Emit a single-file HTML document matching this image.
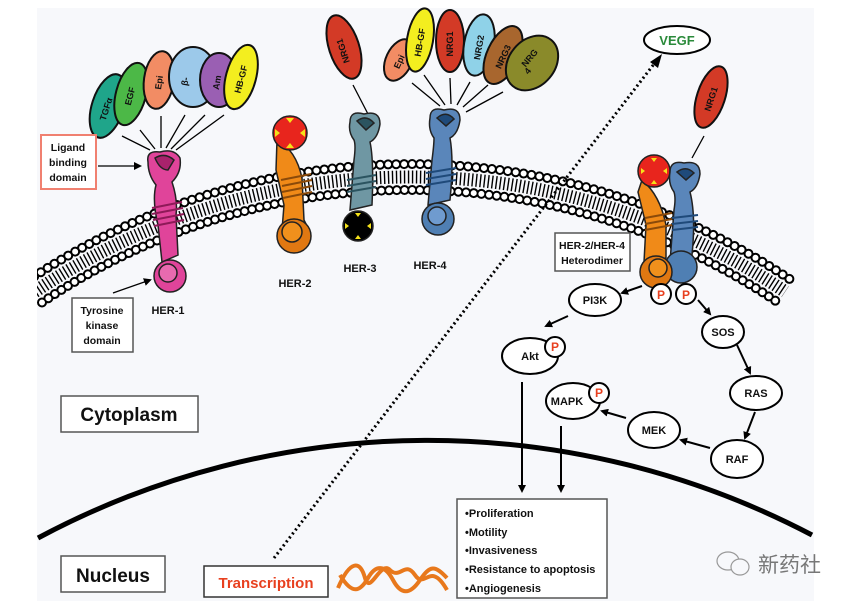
<!DOCTYPE html>
<html><head><meta charset="utf-8"><style>
html,body{margin:0;padding:0;background:#fff;}
svg{display:block;}
text{font-family:"Liberation Sans",Arial,sans-serif;font-weight:bold;}
</style></head><body>
<svg width="848" height="601" viewBox="0 0 848 601" xmlns="http://www.w3.org/2000/svg">
<defs>
<marker id="ah" markerWidth="8" markerHeight="8" refX="6" refY="4" orient="auto" markerUnits="userSpaceOnUse"><path d="M0,0 L8,4 L0,8 Z" fill="#000"/></marker>
</defs>
<rect x="37" y="8" width="777" height="593" fill="#f7f8fb"/>

<!-- cell membrane (arc center 410,848) -->
<g fill="none">
<path d="M34.8,291.7 A671,671 0 0 1 785.2,291.7" stroke="#000" stroke-width="13" stroke-dasharray="1.4 2.6"/>
<path d="M27.5,281 A684,684 0 0 1 792.5,281" stroke="#000" stroke-width="10" stroke-dasharray="0 8" stroke-linecap="round"/>
<path d="M27.5,281 A684,684 0 0 1 792.5,281" stroke="#fff" stroke-width="6" stroke-dasharray="0 8" stroke-linecap="round"/>
<path d="M42,302.5 A658,658 0 0 1 778,302.5" stroke="#000" stroke-width="10" stroke-dasharray="0 7.7" stroke-linecap="round"/>
<path d="M42,302.5 A658,658 0 0 1 778,302.5" stroke="#fff" stroke-width="6" stroke-dasharray="0 7.7" stroke-linecap="round"/>
</g>
<rect x="0" y="0" width="37" height="601" fill="#fff"/>
<rect x="814" y="0" width="34" height="601" fill="#fff"/>

<!-- nuclear membrane -->
<path d="M38,538 A827,827 0 0 1 812,535" fill="none" stroke="#000" stroke-width="5"/>

<!-- dotted line -->
<line x1="274" y1="558" x2="654" y2="64" stroke="#000" stroke-width="3" stroke-dasharray="2 3"/>
<path d="M662,54 L650,62 L658,68 Z" fill="#000"/>
<ellipse cx="677" cy="40" rx="33" ry="14" fill="#fff" stroke="#000" stroke-width="2"/>
<text x="677" y="45" font-size="13" fill="#2a8a3a" text-anchor="middle">VEGF</text>

<!-- ligand lines -->
<g stroke="#000" stroke-width="1.3">
<line x1="122" y1="136" x2="150" y2="150"/><line x1="140" y1="130" x2="155" y2="149"/>
<line x1="161" y1="116" x2="161" y2="148"/><line x1="185" y1="115" x2="166" y2="148"/>
<line x1="205" y1="115" x2="171" y2="149"/><line x1="224" y1="115" x2="176" y2="150"/>
<line x1="353" y1="85" x2="368" y2="114"/>
<line x1="412" y1="83" x2="440" y2="106"/><line x1="424" y1="75" x2="445" y2="105"/>
<line x1="450" y1="78" x2="451" y2="104"/><line x1="470" y1="82" x2="457" y2="105"/>
<line x1="488" y1="85" x2="463" y2="107"/><line x1="503" y1="92" x2="466" y2="112"/>
<line x1="704" y1="136" x2="692" y2="158"/>
</g>

<!-- ligands -->
<g stroke="#111" stroke-width="2">
<ellipse cx="108" cy="106" rx="16" ry="33" fill="#1fa58a" transform="rotate(18 108 106)"/>
<ellipse cx="131" cy="94" rx="15" ry="32" fill="#4cb847" transform="rotate(15 131 94)"/>
<ellipse cx="159" cy="80" rx="15" ry="29" fill="#f28c64" transform="rotate(8 159 80)"/>
<ellipse cx="193" cy="77" rx="24" ry="30" fill="#9cc9ea"/>
<ellipse cx="219" cy="80" rx="19" ry="27" fill="#9a5fb3"/>
<ellipse cx="241" cy="77" rx="15" ry="33" fill="#f3ee1f" transform="rotate(15 241 77)"/>
<ellipse cx="344" cy="47" rx="15" ry="33" fill="#d33a26" transform="rotate(-18 344 47)"/>
<ellipse cx="399" cy="60" rx="13" ry="22" fill="#f28c64" transform="rotate(25 399 60)"/>
<ellipse cx="420" cy="40" rx="13" ry="32" fill="#f3ee1f" transform="rotate(10 420 40)"/>
<ellipse cx="450" cy="41" rx="14" ry="31" fill="#d33a26"/>
<ellipse cx="479" cy="45" rx="15" ry="31" fill="#8fd2e8" transform="rotate(10 479 45)"/>
<ellipse cx="503" cy="55" rx="16" ry="31" fill="#a8662e" transform="rotate(25 503 55)"/>
<ellipse cx="532" cy="63" rx="23" ry="30" fill="#8a8a2a" transform="rotate(40 532 63)"/>
<ellipse cx="711" cy="97" rx="14" ry="32" fill="#d33a26" transform="rotate(18 711 97)"/>
</g>
<g font-size="9" fill="#111" text-anchor="middle">
<text transform="translate(109,110) rotate(-72)">TGFα</text>
<text transform="translate(133,97) rotate(-75)">EGF</text>
<text transform="translate(162,83) rotate(-82)">Epi</text>
<text transform="translate(188,82) rotate(-80)">β-</text>
<text transform="translate(220,83) rotate(-80)">Am</text>
<text transform="translate(244,80) rotate(-75)">HB-GF</text>
<text transform="translate(346,50) rotate(-108)">NRG1</text>
<text transform="translate(402,63) rotate(-65)">Epi</text>
<text transform="translate(423,43) rotate(-80)">HB-GF</text>
<text transform="translate(453,44) rotate(-90)">NRG1</text>
<text transform="translate(482,48) rotate(-80)">NRG2</text>
<text transform="translate(506,58) rotate(-65)">NRG3</text>
<text transform="translate(532,60) rotate(-50)">NRG</text>
<text transform="translate(530,73) rotate(-50)">4</text>
<text transform="translate(714,100) rotate(-72)">NRG1</text>
</g>

<!-- receptors -->
<g stroke="#222" stroke-width="1.5">
<!-- HER-1 -->
<path d="M148,162 Q146,150 160,152 Q174,148 180,158 Q182,172 172,182 Q178,200 176,215 L178,255 L162,262 L158,225 Q152,200 156,185 Q148,175 148,162Z" fill="#e0449a"/>
<path d="M155,158 Q165,152 174,160 L168,170 Q160,170 155,158Z" fill="#a8226c"/>
<circle cx="170" cy="276" r="16" fill="#e0449a"/><circle cx="168" cy="273" r="9" fill="#e86aaf"/>
<g fill="none" stroke="#8e1a58" stroke-width="2"><path d="M152,208 L182,202"/><path d="M152,214 L183,208"/><path d="M153,220 L184,214"/><path d="M154,226 L184,220"/></g>
<!-- HER-2 -->
<path d="M277,140 Q296,150 302,178 L304,220 L308,228 L282,230 L284,205 L276,170Z" fill="#f08a18"/>
<circle cx="290" cy="133" r="17" fill="#e8251d"/>
<circle cx="294" cy="236" r="17" fill="#e07812"/><circle cx="292" cy="232" r="10" fill="#f0901c"/>
<g fill="none" stroke="#8a4a0a" stroke-width="2"><path d="M281,180 L311,174"/><path d="M282,186 L312,180"/><path d="M282,192 L312,186"/><path d="M283,198 L312,192"/></g>
<!-- HER-3 -->
<path d="M350,122 Q350,110 364,114 Q380,110 380,124 Q378,138 370,142 Q374,160 372,205 L350,210 L354,160 Q356,145 354,140 Q348,132 350,122Z" fill="#6f97a3"/>
<path d="M357,121 Q366,114 374,123 L366,130Z" fill="#2b5460"/>
<g fill="none" stroke="#2b5460" stroke-width="2"><path d="M347,180 L376,175"/><path d="M347,186 L376,181"/><path d="M347,192 L376,187"/></g>
<circle cx="358" cy="226" r="15" fill="#000"/>
<!-- HER-4 -->
<path d="M430,118 Q430,106 444,110 Q460,106 460,120 Q458,134 450,138 Q454,160 450,200 L428,205 L432,160 Q434,145 434,138 Q428,130 430,118Z" fill="#5a86ba"/>
<path d="M437,118 Q446,110 454,119 L446,126Z" fill="#1f4a7a"/>
<g fill="none" stroke="#1f4a7a" stroke-width="2"><path d="M426,173 L456,168"/><path d="M426,179 L456,174"/><path d="M426,185 L456,180"/></g>
<circle cx="438" cy="219" r="16" fill="#4f7fb3"/><circle cx="437" cy="216" r="9" fill="#6f9bcf"/>
<!-- heterodimer -->
<path d="M642,180 Q660,195 666,225 L666,258 L644,262 L646,225 L638,192Z" fill="#f08a18"/>
<circle cx="654" cy="171" r="16" fill="#e8251d"/>
<path d="M670,172 Q670,160 684,163 Q700,160 700,174 Q698,188 690,192 Q696,215 692,255 L670,262 L674,210 Q676,198 674,192 Q668,184 670,172Z" fill="#5a86ba"/>
<path d="M677,172 Q686,165 694,173 L686,180Z" fill="#1f4a7a"/>
<circle cx="681" cy="267" r="16" fill="#4f7fb3"/>
<circle cx="656" cy="272" r="16" fill="#e07812"/><circle cx="658" cy="268" r="9" fill="#f0901c"/>
<g fill="none" stroke="#8a4a0a" stroke-width="2"><path d="M645,218 L672,213"/><path d="M645,224 L672,219"/><path d="M645,230 L672,225"/></g>
<g fill="none" stroke="#1f4a7a" stroke-width="2"><path d="M672,218 L698,215"/><path d="M672,224 L698,221"/><path d="M672,230 L698,227"/></g>
</g>
<g fill="#f5e21a">
<path d="M290,123 l-4,-5 h8z"/><path d="M290,143 l-4,5 h8z"/><path d="M280,133 l-5,-4 v8z"/><path d="M300,133 l5,-4 v8z"/>
<path d="M358,217 l-3,-4 h6z"/><path d="M358,235 l-3,4 h6z"/><path d="M349,226 l-4,-3 v6z"/><path d="M367,226 l4,-3 v6z"/>
<path d="M654,162 l-3,-4 h6z"/><path d="M654,180 l-3,4 h6z"/><path d="M645,171 l-4,-3 v6z"/><path d="M663,171 l4,-3 v6z"/>
</g>

<!-- labels -->
<rect x="41" y="135" width="55" height="54" fill="#fff" stroke="#f08070" stroke-width="2"/>
<g font-size="10.5" fill="#111" text-anchor="middle"><text x="68" y="151">Ligand</text><text x="68" y="166">binding</text><text x="68" y="181">domain</text></g>
<line x1="98" y1="166" x2="140" y2="166" stroke="#000" stroke-width="1.3" marker-end="url(#ah)"/>
<rect x="72" y="298" width="61" height="54" fill="#fff" stroke="#555" stroke-width="1.5"/>
<g font-size="10.5" fill="#111" text-anchor="middle"><text x="102" y="314">Tyrosine</text><text x="102" y="329">kinase</text><text x="102" y="344">domain</text></g>
<line x1="113" y1="293" x2="150" y2="280" stroke="#000" stroke-width="1.3" marker-end="url(#ah)"/>
<g font-size="11" fill="#111" text-anchor="middle">
<text x="168" y="314">HER-1</text><text x="295" y="287">HER-2</text><text x="360" y="272">HER-3</text><text x="430" y="269">HER-4</text>
</g>
<rect x="555" y="233" width="75" height="38" fill="#fff" stroke="#555" stroke-width="1.5"/>
<g font-size="10.5" fill="#111" text-anchor="middle"><text x="592" y="249">HER-2/HER-4</text><text x="592" y="264">Heterodimer</text></g>

<!-- pathway -->
<g fill="#fff" stroke="#000" stroke-width="2">
<ellipse cx="595" cy="300" rx="26" ry="16"/>
<ellipse cx="530" cy="356" rx="28" ry="18"/><circle cx="555" cy="347" r="10"/>
<ellipse cx="573" cy="401" rx="27" ry="18"/><circle cx="599" cy="393" r="10"/>
<ellipse cx="723" cy="332" rx="21" ry="16"/>
<ellipse cx="756" cy="393" rx="26" ry="17"/>
<ellipse cx="654" cy="430" rx="26" ry="18"/>
<ellipse cx="737" cy="459" rx="26" ry="19"/>
<circle cx="661" cy="294" r="10"/><circle cx="686" cy="294" r="10"/>
</g>
<g font-size="11" fill="#111" text-anchor="middle">
<text x="595" y="304">PI3K</text><text x="530" y="360">Akt</text><text x="567" y="405">MAPK</text>
<text x="723" y="336">SOS</text><text x="756" y="397">RAS</text><text x="654" y="434">MEK</text><text x="737" y="463">RAF</text>
</g>
<g font-size="12" fill="#e8401f" text-anchor="middle">
<text x="555" y="351">P</text><text x="599" y="397">P</text><text x="661" y="299">P</text><text x="686" y="299">P</text>
</g>
<g stroke="#000" stroke-width="2" marker-end="url(#ah)">
<line x1="642" y1="286" x2="622" y2="293"/>
<line x1="568" y1="316" x2="546" y2="326"/>
<line x1="698" y1="300" x2="710" y2="314"/>
<line x1="737" y1="345" x2="750" y2="373"/>
<line x1="755" y1="412" x2="745" y2="438"/>
<line x1="710" y1="448" x2="681" y2="440"/>
<line x1="626" y1="418" x2="602" y2="411"/>
<line x1="522" y1="382" x2="522" y2="491"/>
<line x1="561" y1="426" x2="561" y2="491"/>
</g>
<rect x="457" y="499" width="150" height="99" fill="#fff" stroke="#555" stroke-width="1.5"/>
<g font-size="11" fill="#111">
<text x="465" y="517">•Proliferation</text><text x="465" y="536">•Motility</text><text x="465" y="554">•Invasiveness</text>
<text x="465" y="573">•Resistance to apoptosis</text><text x="465" y="592">•Angiogenesis</text>
</g>

<rect x="61" y="396" width="137" height="36" fill="#fff" stroke="#555" stroke-width="1.5"/>
<text x="129" y="421" font-size="19" fill="#111" text-anchor="middle">Cytoplasm</text>
<rect x="61" y="556" width="104" height="36" fill="#fff" stroke="#555" stroke-width="1.5"/>
<text x="113" y="582" font-size="19" fill="#111" text-anchor="middle">Nucleus</text>
<rect x="204" y="566" width="124" height="31" fill="#fff" stroke="#333" stroke-width="1.5"/>
<text x="266" y="588" font-size="15" fill="#e8401f" text-anchor="middle">Transcription</text>

<!-- DNA -->
<g fill="none" stroke="#e8781c" stroke-width="4">
<path d="M338,588 C350,560 360,560 365,578 S380,560 390,570 S405,560 415,575 S430,560 447,590"/>
<path d="M340,575 C352,595 360,592 368,578 S385,565 393,580 S410,595 420,580 S435,565 447,578"/>
</g>

<!-- watermark -->
<g fill="none" stroke="#999" stroke-width="1.2">
<ellipse cx="728" cy="561" rx="11" ry="9"/><ellipse cx="740" cy="567" rx="9" ry="8" fill="#f7f8fb"/>
</g>
<text x="758" y="572" font-size="21" fill="#777" style="font-weight:normal;font-family:'Liberation Sans','Noto Sans CJK SC',sans-serif">新药社</text>
</svg>
</body></html>
